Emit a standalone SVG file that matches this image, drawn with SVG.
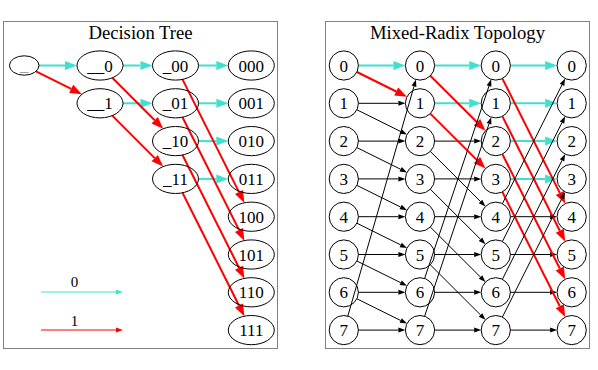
<svg xmlns="http://www.w3.org/2000/svg" width="598" height="370" viewBox="0 0 598 370">
<style>
.bg{fill:#fff}
.box{fill:none;stroke:#808080;stroke-width:1}
.title{font-family:"Liberation Serif","Times New Roman",serif;font-size:18.67px;text-anchor:middle;fill:#000}
.n{fill:none;stroke:#000;stroke-width:1}
.t{font-family:"Liberation Serif","Times New Roman",serif;font-size:17px;text-anchor:middle;fill:#000}
.lg{font-family:"Liberation Serif","Times New Roman",serif;font-size:15px;text-anchor:middle;fill:#000}
.k{stroke:#000;stroke-width:1;fill:none;marker-end:url(#ak)}
.c{stroke:#40e0d0;stroke-width:2;fill:none;marker-end:url(#ac)}
.r{stroke:#ff0000;stroke-width:2;fill:none;marker-end:url(#ar)}
.cs{stroke:#40e0d0;stroke-width:1;fill:none;marker-end:url(#acs)}
.rs{stroke:#ff0000;stroke-width:1;fill:none;marker-end:url(#ars)}
</style>
<defs>
<marker id="ak" markerUnits="userSpaceOnUse" viewBox="0 -3 8 6" markerWidth="8" markerHeight="6" refX="0" refY="0" orient="auto" overflow="visible"><path d="M0,-2.5L7,0L0,2.5z" fill="#000"/></marker>
<marker id="acs" markerUnits="userSpaceOnUse" viewBox="0 -3 8 6" markerWidth="8" markerHeight="6" refX="0" refY="0" orient="auto" overflow="visible"><path d="M0,-2.5L7,0L0,2.5z" fill="#40e0d0"/></marker>
<marker id="ars" markerUnits="userSpaceOnUse" viewBox="0 -3 8 6" markerWidth="8" markerHeight="6" refX="0" refY="0" orient="auto" overflow="visible"><path d="M0,-2.5L7,0L0,2.5z" fill="#ff0000"/></marker>
<marker id="ac" markerUnits="userSpaceOnUse" viewBox="0 -6 14 12" markerWidth="14" markerHeight="12" refX="0" refY="0" orient="auto" overflow="visible"><path d="M0,-4.5L12,0L0,4.5z" fill="#40e0d0"/></marker>
<marker id="ar" markerUnits="userSpaceOnUse" viewBox="0 -6 14 12" markerWidth="14" markerHeight="12" refX="0" refY="0" orient="auto" overflow="visible"><path d="M0,-4.5L12,0L0,4.5z" fill="#ff0000"/></marker>
</defs>
<rect class="bg" x="0" y="0" width="598" height="370"/>

<g id="cluster-tree">
<rect class="box" x="3.5" y="21.5" width="274" height="327"/>
<text class="title" x="140.5" y="39">Decision Tree</text>
</g>
<g id="cluster-radix">
<rect class="box" x="325.5" y="21.5" width="264" height="327"/>
<text class="title" x="457.5" y="39">Mixed-Radix Topology</text>
</g>

<g id="connectors">
<!-- decision tree -->
<line class="c" x1="39" y1="65.5" x2="65" y2="65.5"/>
<line class="r" x1="36" y1="71.4" x2="71.2" y2="88.9"/>
<line class="c" x1="123" y1="65.5" x2="140.5" y2="65.5"/>
<line class="c" x1="123" y1="103.3" x2="140.5" y2="103.3"/>
<line class="r" x1="112.3" y1="77.8" x2="154.7" y2="120.3"/>
<line class="r" x1="112.3" y1="115.6" x2="154.7" y2="158.1"/>
<line class="c" x1="198.5" y1="65.5" x2="216.3" y2="65.5"/>
<line class="c" x1="198.5" y1="103.3" x2="216.3" y2="103.3"/>
<line class="c" x1="198.5" y1="141.1" x2="216.3" y2="141.1"/>
<line class="c" x1="198.5" y1="178.9" x2="216.3" y2="178.9"/>
<line class="r" x1="182.5" y1="79.4" x2="239" y2="192.1"/>
<line class="r" x1="182.5" y1="117.2" x2="239" y2="229.9"/>
<line class="r" x1="182.5" y1="155" x2="239" y2="267.7"/>
<line class="r" x1="182.5" y1="192.8" x2="239" y2="305.5"/>
<!-- legend -->
<line class="cs" x1="41" y1="292" x2="116" y2="292"/>
<line class="rs" x1="41" y1="330" x2="116" y2="330"/>
<!-- radix stage 0 -->
<line class="c" x1="358.4" y1="65.5" x2="393.4" y2="65.5"/>
<line class="r" x1="356.9" y1="72" x2="396.2" y2="91.5"/>
<line class="k" x1="358.4" y1="103.3" x2="398.4" y2="103.3"/>
<line class="k" x1="358.4" y1="141.1" x2="398.4" y2="141.1"/>
<line class="k" x1="358.4" y1="178.9" x2="398.4" y2="178.9"/>
<line class="k" x1="358.4" y1="216.7" x2="398.4" y2="216.7"/>
<line class="k" x1="358.4" y1="254.5" x2="398.4" y2="254.5"/>
<line class="k" x1="358.4" y1="292.3" x2="398.4" y2="292.3"/>
<line class="k" x1="358.4" y1="330.1" x2="398.4" y2="330.1"/>
<line class="k" x1="356.9" y1="109.8" x2="400.7" y2="131.5"/>
<line class="k" x1="356.9" y1="147.6" x2="400.7" y2="169.3"/>
<line class="k" x1="356.9" y1="185.4" x2="400.7" y2="207.1"/>
<line class="k" x1="356.9" y1="223.2" x2="400.7" y2="244.9"/>
<line class="k" x1="356.9" y1="261" x2="400.7" y2="282.7"/>
<line class="k" x1="356.9" y1="298.8" x2="400.7" y2="320.5"/>
<line class="k" x1="347.8" y1="316.1" x2="414" y2="86.3"/>
<!-- radix stage 1 -->
<line class="c" x1="434.6" y1="65.5" x2="469.2" y2="65.5"/>
<line class="c" x1="434.6" y1="103.3" x2="469.2" y2="103.3"/>
<line class="k" x1="434.6" y1="141.1" x2="474.2" y2="141.1"/>
<line class="k" x1="434.6" y1="178.9" x2="474.2" y2="178.9"/>
<line class="k" x1="434.6" y1="216.7" x2="474.2" y2="216.7"/>
<line class="k" x1="434.6" y1="254.5" x2="474.2" y2="254.5"/>
<line class="k" x1="434.6" y1="292.3" x2="474.2" y2="292.3"/>
<line class="k" x1="434.6" y1="330.1" x2="474.2" y2="330.1"/>
<line class="r" x1="430.3" y1="75.8" x2="477" y2="122.3"/>
<line class="r" x1="430.3" y1="113.6" x2="477" y2="160.1"/>
<line class="k" x1="430.3" y1="151.4" x2="480.5" y2="201.5"/>
<line class="k" x1="430.3" y1="189.2" x2="480.5" y2="239.3"/>
<line class="k" x1="430.3" y1="227" x2="480.5" y2="277.1"/>
<line class="k" x1="430.3" y1="264.8" x2="480.5" y2="314.9"/>
<line class="k" x1="424.6" y1="278.5" x2="489" y2="86"/>
<line class="k" x1="424.6" y1="316.3" x2="489" y2="123.8"/>
<!-- radix stage 2 -->
<line class="c" x1="510.4" y1="65.5" x2="545.1" y2="65.5"/>
<line class="c" x1="510.4" y1="103.3" x2="545.1" y2="103.3"/>
<line class="c" x1="510.4" y1="141.1" x2="545.1" y2="141.1"/>
<line class="c" x1="510.4" y1="178.9" x2="545.1" y2="178.9"/>
<line class="k" x1="510.4" y1="216.7" x2="550.1" y2="216.7"/>
<line class="k" x1="510.4" y1="254.5" x2="550.1" y2="254.5"/>
<line class="k" x1="510.4" y1="292.3" x2="550.1" y2="292.3"/>
<line class="k" x1="510.4" y1="330.1" x2="550.1" y2="330.1"/>
<line class="r" x1="502.4" y1="78.6" x2="559.8" y2="192.9"/>
<line class="r" x1="502.4" y1="116.4" x2="559.8" y2="230.7"/>
<line class="r" x1="502.4" y1="154.2" x2="559.8" y2="268.5"/>
<line class="r" x1="502.4" y1="192" x2="559.8" y2="306.3"/>
<line class="k" x1="502.4" y1="203.7" x2="562" y2="84.8"/>
<line class="k" x1="502.4" y1="241.5" x2="562" y2="122.6"/>
<line class="k" x1="502.4" y1="279.3" x2="562" y2="160.4"/>
<line class="k" x1="502.4" y1="317.1" x2="562" y2="198.2"/>
</g>

<g id="legend-0"><text class="lg" x="74.5" y="287">0</text></g>
<g id="legend-1"><text class="lg" x="74.5" y="326">1</text></g>

<!-- decision tree nodes -->
<g id="t-root"><ellipse class="n" cx="24.2" cy="65.5" rx="14.8" ry="9.7"/><text class="t" x="24.2" y="71" fill="#999" style="fill:#a0a0a0">_</text></g>
<g id="t-__0"><ellipse class="n" cx="100" cy="65.5" rx="23" ry="14.6"/><text class="t" x="100" y="71.5">__0</text></g>
<g id="t-__1"><ellipse class="n" cx="100" cy="103.3" rx="23" ry="14.6"/><text class="t" x="100" y="109.3">__1</text></g>
<g id="t-_00"><ellipse class="n" cx="175.5" cy="65.5" rx="23" ry="14.6"/><text class="t" x="175.5" y="71.5">_00</text></g>
<g id="t-_01"><ellipse class="n" cx="175.5" cy="103.3" rx="23" ry="14.6"/><text class="t" x="175.5" y="109.3">_01</text></g>
<g id="t-_10"><ellipse class="n" cx="175.5" cy="141.1" rx="23" ry="14.6"/><text class="t" x="175.5" y="147.1">_10</text></g>
<g id="t-_11"><ellipse class="n" cx="175.5" cy="178.9" rx="23" ry="14.6"/><text class="t" x="175.5" y="184.9">_11</text></g>
<g id="t-000"><ellipse class="n" cx="251.3" cy="65.5" rx="23" ry="14.6"/><text class="t" x="251.3" y="71.5">000</text></g>
<g id="t-001"><ellipse class="n" cx="251.3" cy="103.3" rx="23" ry="14.6"/><text class="t" x="251.3" y="109.3">001</text></g>
<g id="t-010"><ellipse class="n" cx="251.3" cy="141.1" rx="23" ry="14.6"/><text class="t" x="251.3" y="147.1">010</text></g>
<g id="t-011"><ellipse class="n" cx="251.3" cy="178.9" rx="23" ry="14.6"/><text class="t" x="251.3" y="184.9">011</text></g>
<g id="t-100"><ellipse class="n" cx="251.3" cy="216.7" rx="23" ry="14.6"/><text class="t" x="251.3" y="222.7">100</text></g>
<g id="t-101"><ellipse class="n" cx="251.3" cy="254.5" rx="23" ry="14.6"/><text class="t" x="251.3" y="260.5">101</text></g>
<g id="t-110"><ellipse class="n" cx="251.3" cy="292.3" rx="23" ry="14.6"/><text class="t" x="251.3" y="298.3">110</text></g>
<g id="t-111"><ellipse class="n" cx="251.3" cy="330.1" rx="23" ry="14.6"/><text class="t" x="251.3" y="336.1">111</text></g>

<!-- radix nodes: column 0 -->
<g id="r0-0"><circle class="n" cx="343.8" cy="65.5" r="14.6"/><text class="t" x="343.8" y="71.5">0</text></g>
<g id="r0-1"><circle class="n" cx="343.8" cy="103.3" r="14.6"/><text class="t" x="343.8" y="109.3">1</text></g>
<g id="r0-2"><circle class="n" cx="343.8" cy="141.1" r="14.6"/><text class="t" x="343.8" y="147.1">2</text></g>
<g id="r0-3"><circle class="n" cx="343.8" cy="178.9" r="14.6"/><text class="t" x="343.8" y="184.9">3</text></g>
<g id="r0-4"><circle class="n" cx="343.8" cy="216.7" r="14.6"/><text class="t" x="343.8" y="222.7">4</text></g>
<g id="r0-5"><circle class="n" cx="343.8" cy="254.5" r="14.6"/><text class="t" x="343.8" y="260.5">5</text></g>
<g id="r0-6"><circle class="n" cx="343.8" cy="292.3" r="14.6"/><text class="t" x="343.8" y="298.3">6</text></g>
<g id="r0-7"><circle class="n" cx="343.8" cy="330.1" r="14.6"/><text class="t" x="343.8" y="336.1">7</text></g>
<!-- column 1 -->
<g id="r1-0"><circle class="n" cx="420" cy="65.5" r="14.6"/><text class="t" x="420" y="71.5">0</text></g>
<g id="r1-1"><circle class="n" cx="420" cy="103.3" r="14.6"/><text class="t" x="420" y="109.3">1</text></g>
<g id="r1-2"><circle class="n" cx="420" cy="141.1" r="14.6"/><text class="t" x="420" y="147.1">2</text></g>
<g id="r1-3"><circle class="n" cx="420" cy="178.9" r="14.6"/><text class="t" x="420" y="184.9">3</text></g>
<g id="r1-4"><circle class="n" cx="420" cy="216.7" r="14.6"/><text class="t" x="420" y="222.7">4</text></g>
<g id="r1-5"><circle class="n" cx="420" cy="254.5" r="14.6"/><text class="t" x="420" y="260.5">5</text></g>
<g id="r1-6"><circle class="n" cx="420" cy="292.3" r="14.6"/><text class="t" x="420" y="298.3">6</text></g>
<g id="r1-7"><circle class="n" cx="420" cy="330.1" r="14.6"/><text class="t" x="420" y="336.1">7</text></g>
<!-- column 2 -->
<g id="r2-0"><circle class="n" cx="495.8" cy="65.5" r="14.6"/><text class="t" x="495.8" y="71.5">0</text></g>
<g id="r2-1"><circle class="n" cx="495.8" cy="103.3" r="14.6"/><text class="t" x="495.8" y="109.3">1</text></g>
<g id="r2-2"><circle class="n" cx="495.8" cy="141.1" r="14.6"/><text class="t" x="495.8" y="147.1">2</text></g>
<g id="r2-3"><circle class="n" cx="495.8" cy="178.9" r="14.6"/><text class="t" x="495.8" y="184.9">3</text></g>
<g id="r2-4"><circle class="n" cx="495.8" cy="216.7" r="14.6"/><text class="t" x="495.8" y="222.7">4</text></g>
<g id="r2-5"><circle class="n" cx="495.8" cy="254.5" r="14.6"/><text class="t" x="495.8" y="260.5">5</text></g>
<g id="r2-6"><circle class="n" cx="495.8" cy="292.3" r="14.6"/><text class="t" x="495.8" y="298.3">6</text></g>
<g id="r2-7"><circle class="n" cx="495.8" cy="330.1" r="14.6"/><text class="t" x="495.8" y="336.1">7</text></g>
<!-- column 3 -->
<g id="r3-0"><circle class="n" cx="571.7" cy="65.5" r="14.6"/><text class="t" x="571.7" y="71.5">0</text></g>
<g id="r3-1"><circle class="n" cx="571.7" cy="103.3" r="14.6"/><text class="t" x="571.7" y="109.3">1</text></g>
<g id="r3-2"><circle class="n" cx="571.7" cy="141.1" r="14.6"/><text class="t" x="571.7" y="147.1">2</text></g>
<g id="r3-3"><circle class="n" cx="571.7" cy="178.9" r="14.6"/><text class="t" x="571.7" y="184.9">3</text></g>
<g id="r3-4"><circle class="n" cx="571.7" cy="216.7" r="14.6"/><text class="t" x="571.7" y="222.7">4</text></g>
<g id="r3-5"><circle class="n" cx="571.7" cy="254.5" r="14.6"/><text class="t" x="571.7" y="260.5">5</text></g>
<g id="r3-6"><circle class="n" cx="571.7" cy="292.3" r="14.6"/><text class="t" x="571.7" y="298.3">6</text></g>
<g id="r3-7"><circle class="n" cx="571.7" cy="330.1" r="14.6"/><text class="t" x="571.7" y="336.1">7</text></g>
</svg>
